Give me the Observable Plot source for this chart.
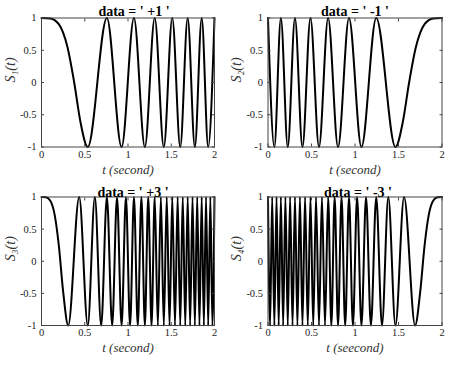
<!DOCTYPE html>
<html>
<head>
<meta charset="utf-8">
<script src="https://cdn.jsdelivr.net/npm/d3@7"></script>
<script src="https://cdn.jsdelivr.net/npm/@observablehq/plot@0.6"></script>
<style>
  html, body { margin: 0; padding: 0; background: #fff; }
  #wrap { position: relative; width: 474px; height: 366px; background: #fff; overflow: hidden; }
  #wrap svg { position: absolute; overflow: visible; background: transparent !important; font-family: "Liberation Serif", "DejaVu Serif", serif !important; }
  #wrap svg text { font-family: "Liberation Serif", "DejaVu Serif", serif !important; }
</style>
</head>
<body>
<div id="wrap"></div>
<script>
// ---- data (extrema times and a few early samples) ----
const xTicks = [0, 0.5, 1, 1.5, 2];
const yTicks = [-1, -0.5, 0, 0.5, 1];
const titles = ["data = ' +1 '", "data = ' -1 '", "data = ' +3 '", "data = ' -3 '"];
const yLabels = ["S\u2081(t)", "S\u2082(t)", "S\u2083(t)", "S\u2084(t)"];
const xLabels = ["t (second)", "t (second)", "t (second)", "t (seecond)"];

const s1T = [0, 0.1, 0.2, 0.3, 0.378, 0.45, 0.535, 0.756, 0.926, 1.069, 1.195, 1.309, 1.414, 1.512, 1.604, 1.690, 1.773, 1.852, 1.927, 2.0];
const s1V = [1, 0.994, 0.905, 0.549, 0, -0.61, -1, 1, -1, 1, -1, 1, -1, 1, -1, 1, -1, 1, -1, 1];

const s2T = [0, 0.073, 0.148, 0.227, 0.310, 0.396, 0.488, 0.586, 0.691, 0.805, 0.931, 1.074, 1.244, 1.465, 1.55, 1.622, 1.7, 1.8, 1.9, 2.0];
const s2V = [1, -1, 1, -1, 1, -1, 1, -1, 1, -1, 1, -1, 1, -1, -0.61, 0, 0.549, 0.905, 0.994, 1];

const s3T = [0, 0.05, 0.1, 0.15, 0.2, 0.25, 0.309, 0.436, 0.535, 0.617, 0.690, 0.756, 0.817, 0.873, 0.926, 0.976, 1.024, 1.069, 1.113, 1.155, 1.195, 1.234, 1.272, 1.309, 1.345, 1.380, 1.414, 1.448, 1.480, 1.512, 1.543, 1.574, 1.604, 1.633, 1.662, 1.690, 1.718, 1.746, 1.773, 1.800, 1.826, 1.852, 1.877, 1.902, 1.927, 1.952, 1.976, 2.0];
const s3V = [1, 0.997, 0.946, 0.737, 0.249, -0.47, -1, 1, -1, 1, -1, 1, -1, 1, -1, 1, -1, 1, -1, 1, -1, 1, -1, 1, -1, 1, -1, 1, -1, 1, -1, 1, -1, 1, -1, 1, -1, 1, -1, 1, -1, 1, -1, 1, -1, 1, -1, 1];

const s4T = [0, 0.024, 0.048, 0.073, 0.098, 0.123, 0.148, 0.174, 0.200, 0.227, 0.254, 0.282, 0.310, 0.338, 0.367, 0.396, 0.426, 0.457, 0.488, 0.520, 0.552, 0.586, 0.620, 0.655, 0.691, 0.728, 0.766, 0.805, 0.845, 0.887, 0.931, 0.976, 1.024, 1.074, 1.127, 1.183, 1.244, 1.310, 1.383, 1.465, 1.564, 1.691, 1.75, 1.8, 1.85, 1.9, 1.95, 2.0];
const s4V = [1, -1, 1, -1, 1, -1, 1, -1, 1, -1, 1, -1, 1, -1, 1, -1, 1, -1, 1, -1, 1, -1, 1, -1, 1, -1, 1, -1, 1, -1, 1, -1, 1, -1, 1, -1, 1, -1, 1, -1, 1, -1, -0.47, 0.249, 0.737, 0.946, 0.997, 1];

const series = [[s1T, s1V], [s2T, s2V], [s3T, s3V], [s4T, s4V]];

// panel placement: [left, top, width, marginLeft, marginRight, marginTop, marginBottom, titleDx, titleDy]
const layout = [
  [0, 0, 225, 41, 11, 17.5, 36.5, 6, -12],
  [225, 0, 249, 42.5, 32.5, 17.5, 36.5, 0, -12],
  [0, 183, 225, 41, 11, 13.5, 41, 5, -9.5],
  [225, 183, 249, 42.5, 32.5, 13.5, 41, 3, -9.5]
];

const serif = "Liberation Serif";
const fmt = d => String(d);
const noText = () => "";
const wrap = document.getElementById("wrap");

series.forEach(([T, V], i) => {
  const data = T.map((t, j) => ({t, v: V[j]}));
  const [left, top, w, ml, mr, mt, mb, tdx, tdy] = layout[i];
  const svg = Plot.plot({
    width: w,
    height: 183,
    marginLeft: ml,
    marginRight: mr,
    marginTop: mt,
    marginBottom: mb,
    style: {fontSize: "10.5px", color: "#222", background: "transparent"},
    x: {domain: [0, 2]},
    y: {domain: [-1, 1]},
    marks: [
      Plot.line(data, {x: "t", y: "v", curve: "monotone-x", stroke: "black", strokeWidth: 2}),
      Plot.frame({stroke: "#444", strokeWidth: 1}),
      Plot.axisX(xTicks, {anchor: "bottom", tickSize: -3, tickPadding: 6.5, tickFormat: fmt, label: null, stroke: "#444", fill: "#222", fontFamily: serif, fontSize: 10.5}),
      Plot.axisX(xTicks, {anchor: "top", tickSize: -3, tickFormat: noText, label: null, stroke: "#444"}),
      Plot.axisY(yTicks, {anchor: "left", tickSize: -3, tickPadding: 8, tickFormat: fmt, label: null, stroke: "#444", fill: "#222", fontFamily: serif, fontSize: 10.5}),
      Plot.axisY(yTicks, {anchor: "right", tickSize: -3, tickFormat: noText, label: null, stroke: "#444"}),
      Plot.text([titles[i]], {frameAnchor: "top", dx: tdx, dy: tdy, fontWeight: "bold", fontSize: 14, fill: "black", fontFamily: serif}),
      Plot.text([xLabels[i]], {frameAnchor: "bottom", dy: 26.5, fontStyle: "italic", fontSize: 13, fill: "#333", fontFamily: serif}),
      Plot.text([yLabels[i]], {frameAnchor: "left", dx: -31, rotate: -90, fontStyle: "italic", fontSize: 14, fill: "#333", fontFamily: serif})
    ]
  });
  svg.style.left = left + "px";
  svg.style.top = top + "px";
  wrap.appendChild(svg);
});
</script>
</body>
</html>
